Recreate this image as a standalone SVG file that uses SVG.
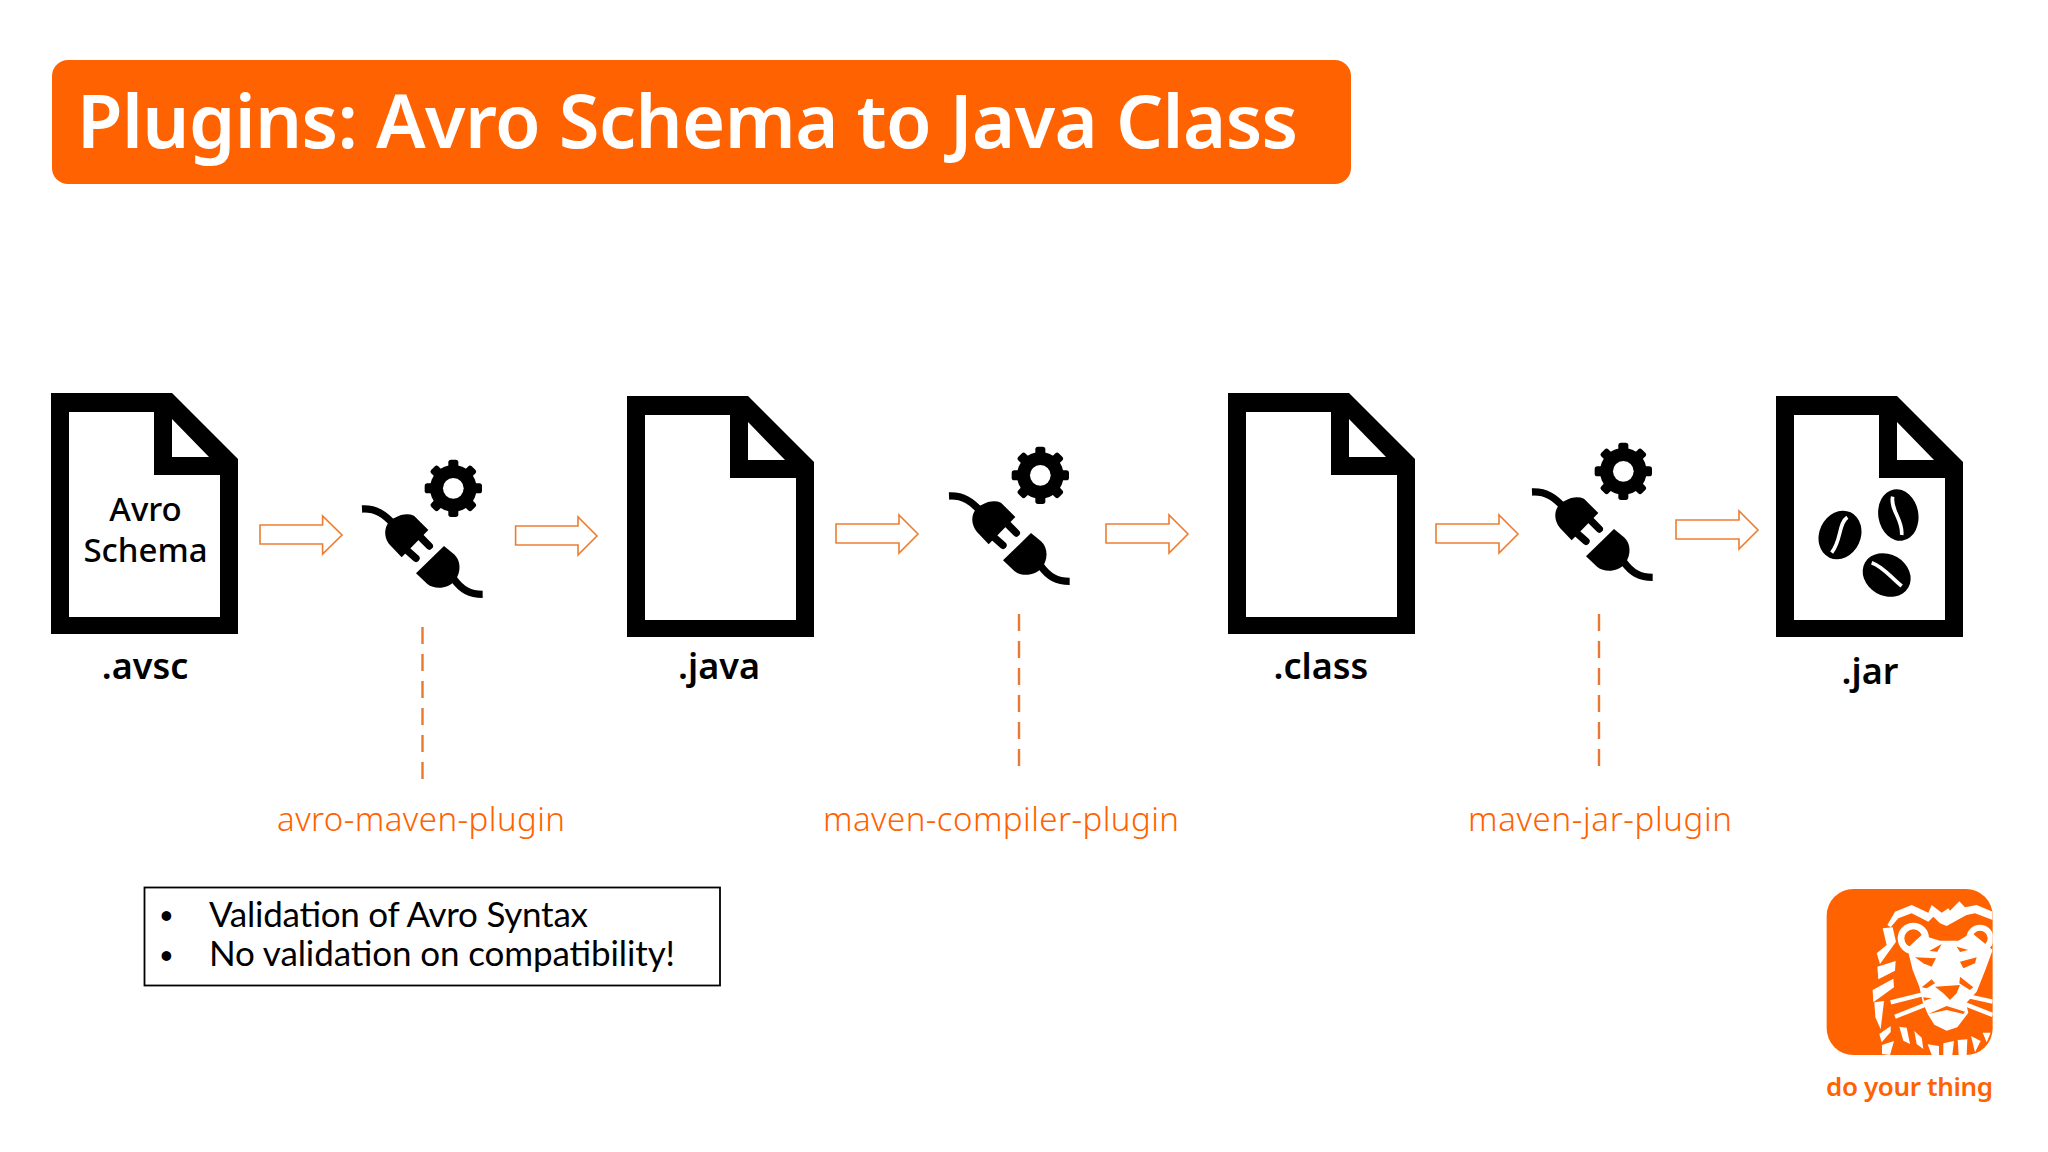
<svg xmlns="http://www.w3.org/2000/svg" xmlns:xlink="http://www.w3.org/1999/xlink" width="2048" height="1152" viewBox="0 0 2048 1152">
<style>
text{font-family:"Noto Sans","Open Sans","Liberation Sans",sans-serif}
.t{font-size:36px;font-weight:600;fill:#000;text-anchor:middle}
.a{font-size:33px;font-weight:500;fill:#000;text-anchor:middle}
.o{font-size:33px;font-weight:300;fill:#ff6200}
.b{font-family:Lato,"Noto Sans",sans-serif;font-size:35px;font-weight:400;fill:#000}
.d{font-family:Lato,"Noto Sans",sans-serif;font-size:22px;font-weight:700;fill:#000}
.arrow{fill:#fff;stroke:#ed7d31;stroke-width:1.6}
.dash{fill:none;stroke:#e67a33;stroke-width:2.4;stroke-dasharray:17 10}
.w{fill:#fff}
.k{fill:none;stroke:#000;stroke-width:22}
.s{fill:none;stroke:#fff;stroke-width:11}
.wl{fill:none;stroke:#fff;stroke-width:13}
</style>
<defs>
<g id="doc">
<path fill-rule="evenodd" d="M0 0H121L187 66V241H0ZM18 19V224H169V82H103V19ZM121 26V64H158Z"/>
</g>
<g id="plug">
<circle cx="340" cy="115" r="70"/>
<g transform="translate(340 115)">
<rect x="-15" y="-86" width="30" height="28" rx="8"/>
<rect x="-15" y="-86" width="30" height="28" rx="8" transform="rotate(45)"/>
<rect x="-15" y="-86" width="30" height="28" rx="8" transform="rotate(90)"/>
<rect x="-15" y="-86" width="30" height="28" rx="8" transform="rotate(135)"/>
<rect x="-15" y="-86" width="30" height="28" rx="8" transform="rotate(180)"/>
<rect x="-15" y="-86" width="30" height="28" rx="8" transform="rotate(225)"/>
<rect x="-15" y="-86" width="30" height="28" rx="8" transform="rotate(270)"/>
<rect x="-15" y="-86" width="30" height="28" rx="8" transform="rotate(315)"/>
</g>
<circle cx="340" cy="115" r="31" fill="#fff"/>
<path class="k" d="M66 177C110 175 135 195 160 222"/>
<path d="M265 240L185 322L150 285C125 255 135 215 165 203C185 192 205 190 222 197Z"/>
<path d="M240 260L268 288M200 300L228 325" fill="none" stroke="#000" stroke-width="22" stroke-linecap="round"/>
<path d="M312 288L228 370L262 402C285 420 325 416 345 392C365 365 362 330 342 313Z"/>
<path class="k" d="M340 385C365 420 390 433 428 433"/>
</g>
<clipPath id="logoClip"><rect x="80" y="57" width="498" height="498" rx="80"/></clipPath>
</defs>
<rect width="2048" height="1152" fill="#fff"/>

<g id="title">
<rect x="52" y="60" width="1299" height="124" rx="16" fill="#ff6200"/>
<text x="77" y="148" font-size="74" font-weight="600" fill="#fff" textLength="1221" lengthAdjust="spacing">Plugins: Avro Schema to Java Class</text>
</g>

<g id="connectors">
<path class="arrow" d="M260 525H322.600V516L342 535L322.600 554V544H260Z"/>
<path class="arrow" d="M515.600 526H578V517L597 536L578 555V545H515.600Z"/>
<path class="arrow" d="M836 524H899V515L918 534L899 553V543H836Z"/>
<path class="arrow" d="M1106 524H1169V515L1188 534L1169 553V543H1106Z"/>
<path class="arrow" d="M1436 524H1499V515L1518 534L1499 553V543H1436Z"/>
<path class="arrow" d="M1676 520H1739V511L1758 530L1739 549V539H1676Z"/>
<path class="dash" d="M422.500 627V783"/>
<path class="dash" d="M1019 614V770"/>
<path class="dash" d="M1599 614V770"/>
</g>

<g id="node-avsc">
<use xlink:href="#doc" href="#doc" x="51" y="393"/>
<text class="a" x="145.500" y="521">Avro</text>
<text class="a" x="145.500" y="562">Schema</text>
<text class="t" x="145" y="679">.avsc</text>
</g>
<g id="node-java">
<use xlink:href="#doc" href="#doc" x="627" y="396"/>
<text class="t" x="719" y="679">.java</text>
</g>
<g id="node-class">
<use xlink:href="#doc" href="#doc" x="1228" y="393"/>
<text class="t" x="1321" y="679">.class</text>
</g>
<g id="node-jar">
<use xlink:href="#doc" href="#doc" x="1776" y="396"/>
<g transform="translate(1760 380) scale(.33333)">
<ellipse cx="240" cy="465" rx="62" ry="75" transform="rotate(25 240 465)"/>
<ellipse cx="415" cy="405" rx="60" ry="78" transform="rotate(-10 415 405)"/>
<ellipse cx="380" cy="585" rx="75" ry="62" transform="rotate(30 380 585)"/>
<path class="s" d="M262 412C235 430 245 480 215 518"/>
<path class="s" d="M398 350C390 390 430 420 425 465"/>
<path class="s" d="M335 548C370 560 390 590 425 618"/>
</g>
<text class="t" x="1870" y="684">.jar</text>
</g>

<g id="node-plugin-avro">
<use xlink:href="#plug" href="#plug" transform="translate(340 450) scale(.33333)"/>
<text class="o" x="277" y="831" textLength="288" lengthAdjust="spacing">avro-maven-plugin</text>
</g>
<g id="node-plugin-compiler">
<use xlink:href="#plug" href="#plug" transform="translate(927 437) scale(.33333)"/>
<text class="o" x="823" y="831" textLength="356" lengthAdjust="spacing">maven-compiler-plugin</text>
</g>
<g id="node-plugin-jar">
<use xlink:href="#plug" href="#plug" transform="translate(1510 433) scale(.33333)"/>
<text class="o" x="1468" y="831" textLength="264" lengthAdjust="spacing">maven-jar-plugin</text>
</g>

<g id="note">
<rect x="144.500" y="887.500" width="575.500" height="98" fill="#fff" stroke="#000" stroke-width="1.800"/>
<text class="d" x="160" y="923">•</text>
<text class="d" x="160" y="963">•</text>
<text class="b" x="209" y="927" textLength="379" lengthAdjust="spacing">Validation of Avro Syntax</text>
<text class="b" x="209" y="966" textLength="466" lengthAdjust="spacing">No validation on compatibility!</text>
</g>

<g id="logo">
<g transform="translate(1800 870) scale(.33333)">
<rect x="80" y="57" width="498" height="498" rx="80" fill="#ff6200"/>
<g clip-path="url(#logoClip)">
<path class="w" d="M262 165L285 125L335 105L385 128L395 105L425 128L445 115L450 122L478 94L495 112L530 105L578 125L578 150L525 130L500 135L490 140L440 168L420 160L400 140L385 155L335 130L295 145L272 172Z"/>
<path class="w" d="M248 175L278 172L288 215L240 282L230 250L260 225Z"/>
<path class="w" d="M232 290L287 273L285 302L235 328Z"/>
<path class="w" d="M218 360L280 326L282 352L220 397Z"/>
<path class="w" d="M223 397L252 393L242 478L226 442Z"/>
<path class="w" d="M238 492L272 468L272 486L245 517Z"/>
<path class="w" d="M246 525L282 513L270 555L246 552Z"/>
<path class="w" d="M298 470L320 473L330 522L310 512Z"/>
<path class="w" d="M343 483L365 503L370 537L350 522Z"/>
<path class="w" d="M383 523L417 528L417 555L395 555Z"/>
<path class="w" d="M430 520L462 513L457 555L430 555Z"/>
<path class="w" d="M473 510L502 508L500 555L476 555Z"/>
<path class="w" d="M513 498L542 513L525 547Z"/>
<path class="w" d="M548 488L572 488L560 517Z"/>
<circle cx="340" cy="205" r="37" fill="#ff6200" stroke="#fff" stroke-width="20"/>
<circle cx="540" cy="205" r="32" fill="#ff6200" stroke="#fff" stroke-width="18"/>
<path class="w" d="M322 235L365 195L420 212L475 212L515 188L578 240L556 300L530 365L498 400L505 428L472 472L440 482L403 464L383 432L368 395L358 350L338 300Z"/>
<path class="wl" d="M272 397L372 372M285 440L374 405M488 375L578 395M488 400L578 435"/>
<g fill="#ff6200">
<path d="M388 243L425 222L412 245Z"/>
<path d="M470 230L505 240L480 246Z"/>
<path d="M345 262L408 265L395 290L370 280Z"/>
<path d="M480 275L530 262L525 280L490 295Z"/>
<path d="M405 350L480 345L470 370L450 390L430 370Z"/>
<path d="M365 352L395 328L405 340L380 355Z"/>
<path d="M480 320L520 352L510 360L478 340Z"/>
<path d="M370 382L395 385L372 392Z"/>
<path d="M385 432L440 408L495 425L490 432L440 420Z"/>
</g>
</g>
</g>
<text x="1826" y="1096" font-size="26" font-weight="600" fill="#ff6200" textLength="167" lengthAdjust="spacing">do your thing</text>
</g>
</svg>
